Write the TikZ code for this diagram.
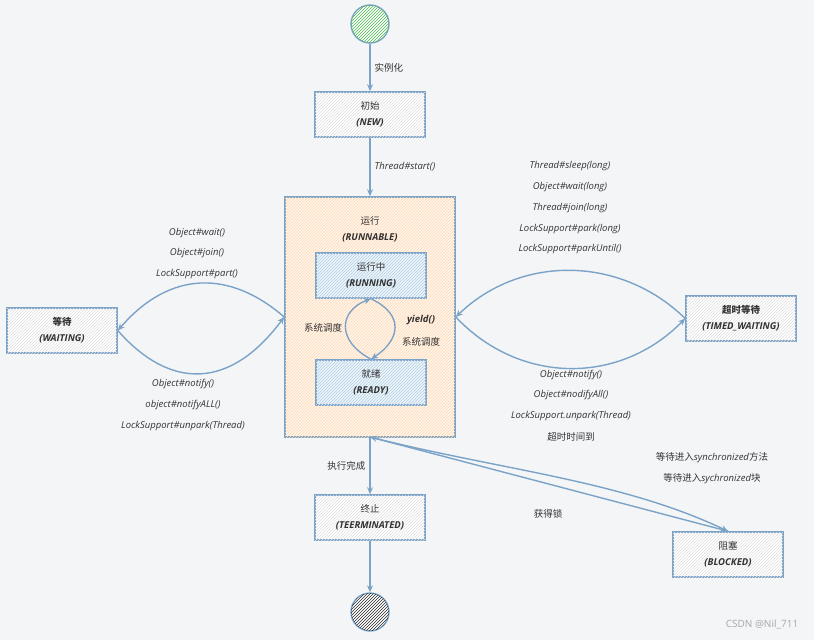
\documentclass[tikz,border=0pt]{standalone}
\usepackage{fontspec}
\setmainfont{Open Sans}
\newfontfamily\cjk{Noto Sans CJK SC}
\usetikzlibrary{patterns,arrows.meta}
\definecolor{bg}{HTML}{F4F5F7}
\definecolor{ln}{HTML}{7BA3C8}
\definecolor{txt}{HTML}{333333}
\begin{document}
\begin{tikzpicture}[x=1pt,y=-1pt,font=\fontsize{9.5}{11}\selectfont,text=txt,
 box/.style={draw=ln,line width=1.6pt,fill=white,postaction={pattern=north east lines,pattern color=black!12},minimum width=110pt,minimum height=45pt,align=center,inner sep=0pt},
 inner/.style={box,postaction={pattern=north east lines,pattern color=ln!50},fill=cyan!8},
 arr/.style={draw=ln,line width=1.4pt,-{Stealth[length=7pt,width=6pt]}},
 lab/.style={inner sep=1pt,align=center}]
\fill[bg] (0,0) rectangle (814,640);
\useasboundingbox (0,0) rectangle (814,640);
\node[circle,draw=ln,line width=1.4pt,fill=white,postaction={pattern=north east lines,pattern color=green!60!black!70},minimum size=38pt] (s) at (370,24) {};
\node[box] (new) at (370,114.5) {{\cjk 初始}\\[5pt]\textbf{\textit{(NEW)}}};
\node[draw=ln,line width=1.6pt,fill=orange!8,postaction={pattern=north east lines,pattern color=orange!30},minimum width=170pt,minimum height=240pt] (rb) at (370,317) {};
\node[lab] at (370,229) {{\cjk 运行}\\[5pt]\textbf{\textit{(RUNNABLE)}}};
\node[inner] (run) at (371,275.5) {{\cjk 运行中}\\[5pt]\textbf{\textit{(RUNNING)}}};
\node[inner] (rdy) at (371,382.5) {{\cjk 就绪}\\[5pt]\textbf{\textit{(READY)}}};
\node[box] (wt) at (62,330.5) {{\cjk\bfseries 等待}\\[5pt]\textbf{\textit{(WAITING)}}};
\node[box] (tw) at (741,318.5) {{\cjk\bfseries 超时等待}\\[5pt]\textbf{\textit{(TIMED\_WAITING)}}};
\node[box] (tm) at (370,517.5) {{\cjk 终止}\\[5pt]\textbf{\textit{(TEERMINATED)}}};
\node[box] (bl) at (728,554.5) {{\cjk 阻塞}\\[5pt]\textbf{\textit{(BLOCKED)}}};
\node[circle,draw=ln,line width=1.4pt,fill=white,postaction={pattern=north east lines,pattern color=black!85},minimum size=38pt] (e) at (370,612) {};
\node[text=gray!70,font=\fontsize{10}{12}\selectfont] at (762,624) {CSDN @Nil\_711};
% connectors
\draw[arr] (s) -- (new) node[lab,midway,right=3pt] {\cjk 实例化};
\draw[arr] (new) -- (rb) node[lab,midway,right=3pt] {\textit{Thread\#start()}};
\draw[arr] (rb.west) .. controls (230,270) and (170,270) .. (wt.east);
\draw[arr] (wt.east) .. controls (170,390) and (230,390) .. (rb.west);
\draw[arr] (tw.west) .. controls (620,255) and (520,255) .. (rb.east);
\draw[arr] (rb.east) .. controls (520,385) and (620,385) .. (tw.west);
\draw[arr] (rdy.north) .. controls (335,340) and (340,310) .. (run.south);
\draw[arr] (run.south) .. controls (405,315) and (400,340) .. (rdy.north);
\draw[arr] (rb) -- (tm) node[lab,midway,left=3pt] {\cjk 执行完成};
\draw[arr] (tm) -- (e);
\coordinate (rbb) at (370,437);
\draw[arr] (rbb) .. controls (500,470) and (620,480) .. (bl.north);
\draw[arr] (bl.north) -- (rbb);
% labels
\node[lab] at (197,233) {\textit{Object\#wait()}};
\node[lab] at (197,253) {\textit{Object\#join()}};
\node[lab] at (197,274) {\textit{LockSupport\#part()}};
\node[lab] at (183,384) {\textit{Object\#notify()}};
\node[lab] at (183,405) {\textit{object\#notifyALL()}};
\node[lab] at (183,426) {\textit{LockSupport\#unpark(Thread)}};
\node[lab] at (570,166) {\textit{Thread\#sleep(long)}};
\node[lab] at (570,187) {\textit{Object\#wait(long)}};
\node[lab] at (570,208) {\textit{Thread\#join(long)}};
\node[lab] at (570,229) {\textit{LockSupport\#park(long)}};
\node[lab] at (570,249) {\textit{LockSupport\#parkUntil()}};
\node[lab] at (571,375) {\textit{Object\#notify()}};
\node[lab] at (571,395) {\textit{Object\#nodifyAll()}};
\node[lab] at (571,416) {\textit{LockSupport.unpark(Thread)}};
\node[lab] at (571,437) {\cjk 超时时间到};
\node[lab] at (323,328) {\cjk 系统调度};
\node[lab] at (421,320) {\textbf{\textit{yield()}}};
\node[lab] at (421,342) {\cjk 系统调度};
\node[lab] at (712,458) {{\cjk 等待进入}\textit{synchronized}{\cjk 方法}};
\node[lab] at (712,479) {{\cjk 等待进入}\textit{sychronized}{\cjk 块}};
\node[lab] at (548,514) {\cjk 获得锁};
\end{tikzpicture}
\end{document}
